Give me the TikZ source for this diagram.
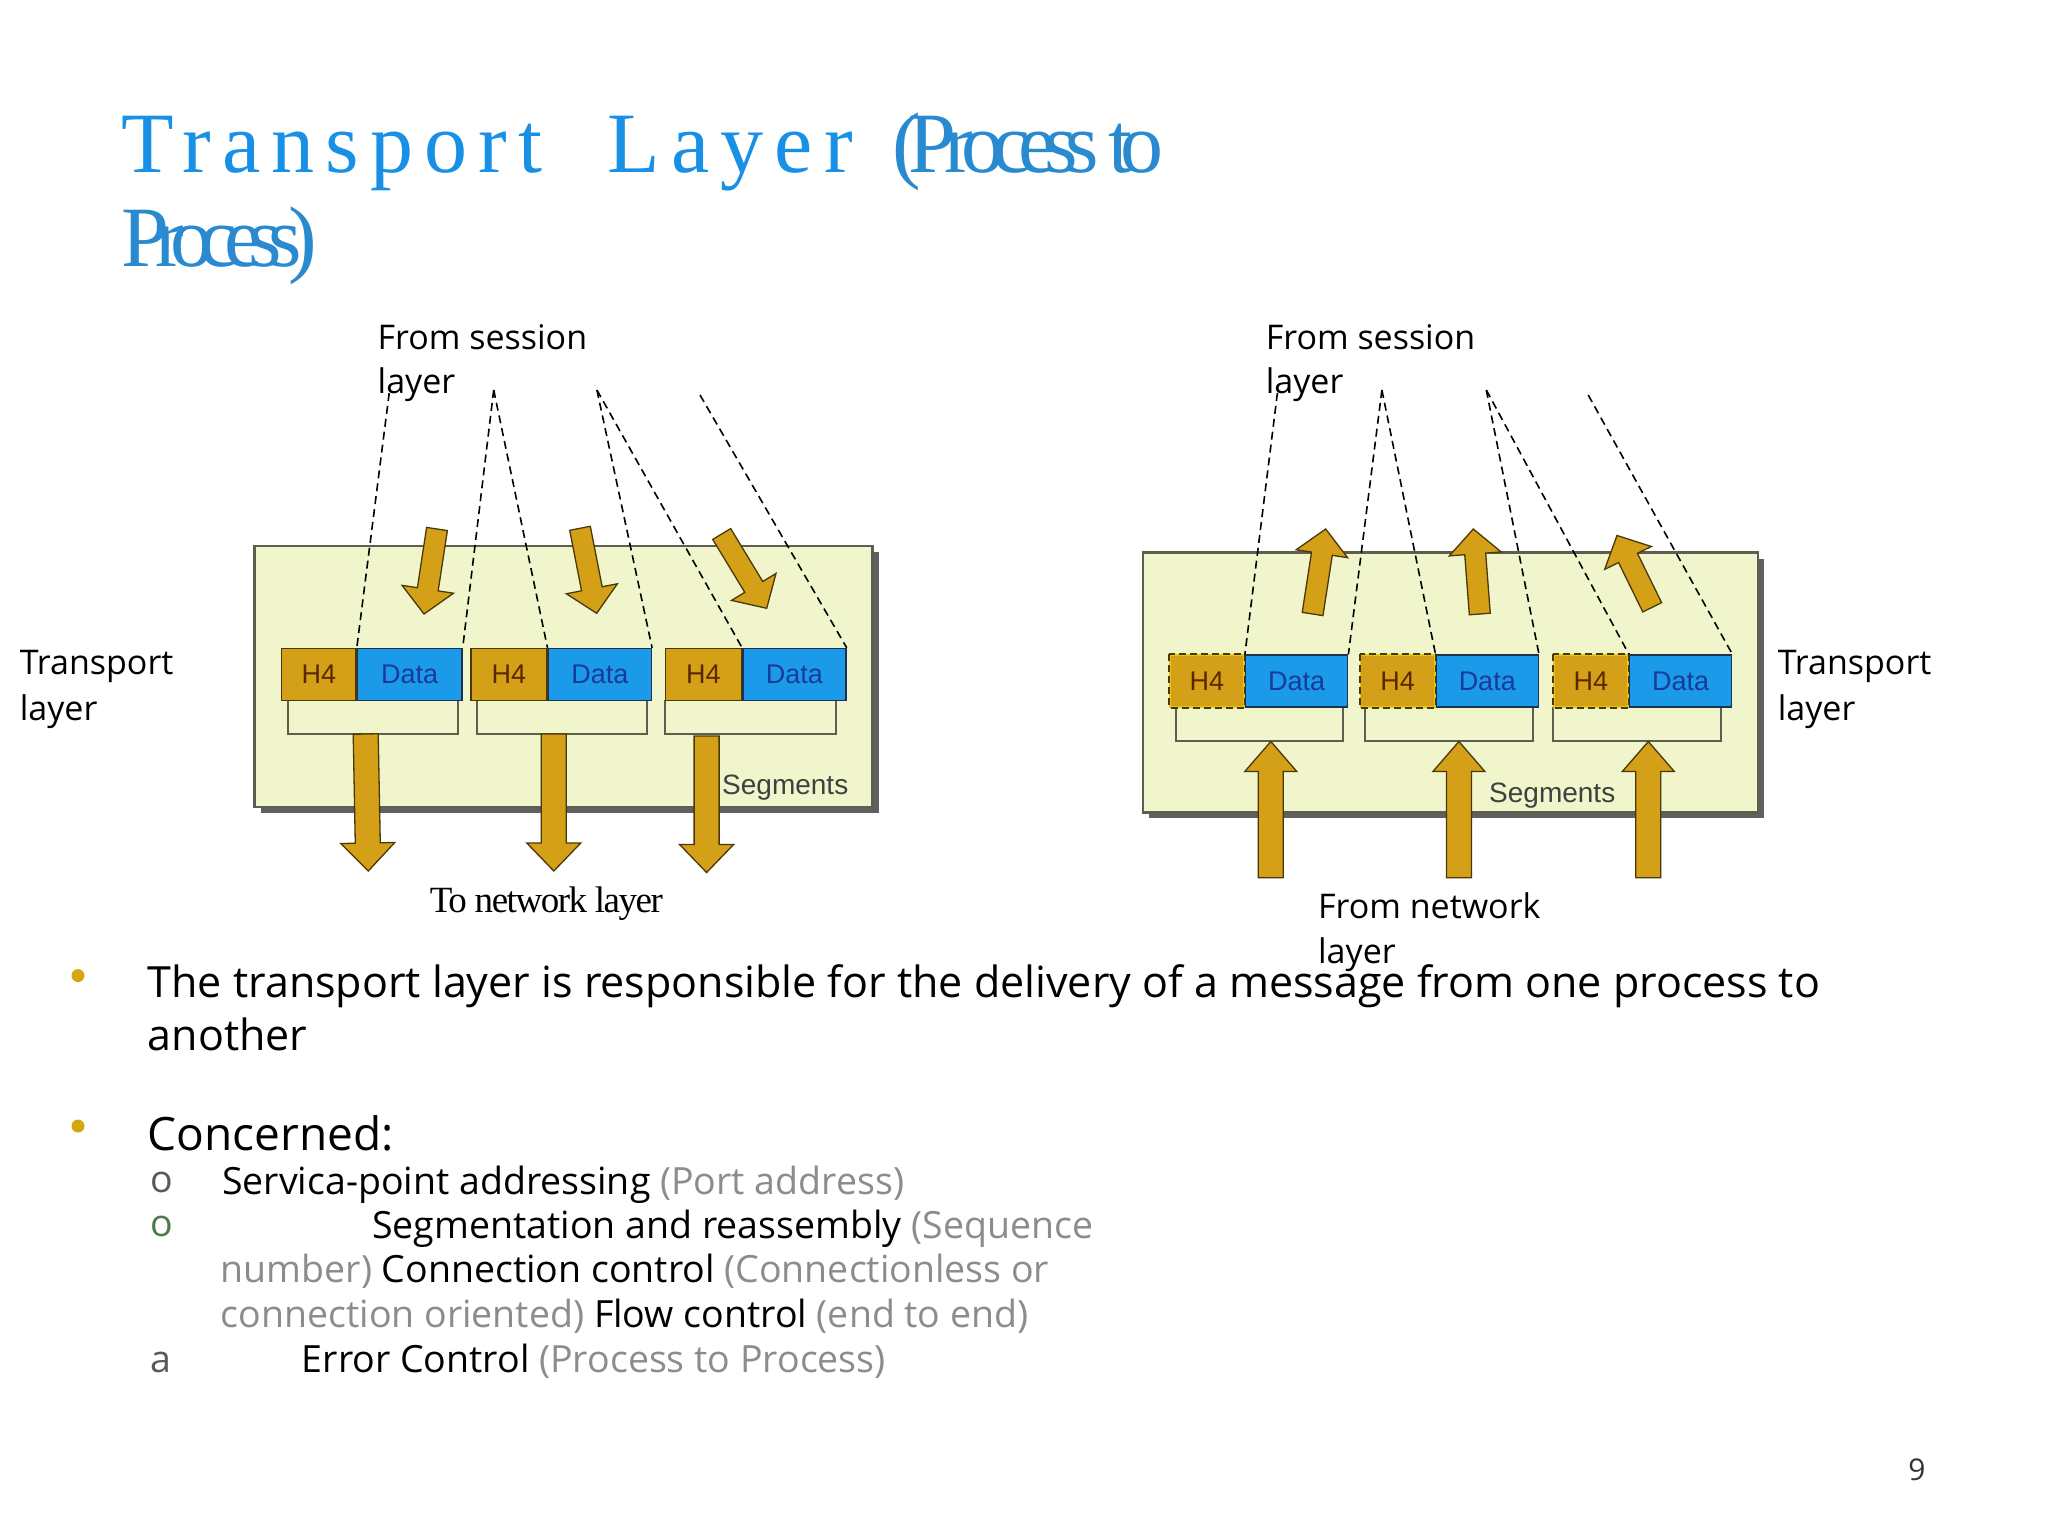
\documentclass[tikz,border=0pt]{standalone}
\usepackage{fontspec}
\setmainfont{Open Sans}
\newfontfamily\arialf{Liberation Sans}
\newfontfamily\serifwide[LetterSpace=13]{Liberation Serif}
\newfontfamily\seriftight[LetterSpace=-14]{Liberation Serif}
\newfontfamily\seriftighter[LetterSpace=-16]{Liberation Serif}
\newfontfamily\serifnet[LetterSpace=-4]{Liberation Serif}
\usetikzlibrary{calc}
\definecolor{gold}{HTML}{D4A017}
\definecolor{goldline}{HTML}{4A3808}
\definecolor{boxfill}{HTML}{F1F5CB}
\definecolor{boxline}{HTML}{5E5E4E}
\definecolor{shadowc}{HTML}{606060}
\definecolor{datafill}{HTML}{1B9AEA}
\definecolor{dataline}{HTML}{203050}
\definecolor{h4text}{HTML}{5A2800}
\definecolor{datatext}{HTML}{1A3A9A}
\definecolor{titleblue}{HTML}{1890E6}
\definecolor{titleblue2}{HTML}{2A8AD0}
\definecolor{graytext}{HTML}{8C8C8C}
\definecolor{bulletc}{HTML}{D4A80C}
\definecolor{segtext}{HTML}{404040}
\newcommand\barrow[5]{%
  \coordinate (hb) at ($(#2)!#5!(#1)$);
  \draw[arrowsty] ($(#1)!#3!90:(#2)$) -- ($(hb)!#3!90:(#2)$) -- ($(hb)!#4!90:(#2)$) -- (#2)
    -- ($(hb)!#4!-90:(#2)$) -- ($(hb)!#3!-90:(#2)$) -- ($(#1)!#3!-90:(#2)$) -- cycle;
}
\begin{document}
\begin{tikzpicture}[x=1pt,y=-1pt,
  arrowsty/.style={fill=gold,draw=goldline,line width=1.3pt,line join=miter},
  lbl/.style={inner sep=0,anchor=base west,font=\fontsize{34}{40}\selectfont},
  body/.style={inner sep=0,anchor=base west,font=\fontsize{43}{50}\selectfont},
  sub/.style={inner sep=0,anchor=base west,font=\fontsize{37.5}{44}\selectfont},
  h4box/.style={draw=goldline,fill=gold,line width=1.5pt,inner sep=0,minimum height=52pt,
     text=h4text,font=\arialf\fontsize{27}{30}\selectfont},
  databox/.style={draw=dataline,fill=datafill,line width=1.5pt,inner sep=0,minimum height=52pt,
     text=datatext,font=\arialf\fontsize{27}{30}\selectfont},
  bracket/.style={draw=boxline,line width=2pt},
  dsh/.style={draw=black,line width=1.6pt,dash pattern=on 8pt off 5pt},
  segl/.style={inner sep=0,anchor=base west,text=segtext,font=\arialf\fontsize{28}{30}\selectfont},
]
\useasboundingbox[fill=white] (0,0) rectangle (2048,1536);

% ---------- title ----------
\node[inner sep=0,anchor=base west,text=titleblue,font=\serifwide\fontsize{86}{90}\selectfont] (t1) at (121.5,172) {Transport};
\node[inner sep=0,anchor=base west,text=titleblue,font=\serifwide\fontsize{86}{90}\selectfont] (t2) at (607.3,172) {Layer};
\node[inner sep=0,anchor=base west,text=titleblue2,font=\seriftight\fontsize{86}{90}\selectfont] (t3) at (892,172) {(Process to};
\node[inner sep=0,anchor=base west,text=titleblue2,font=\seriftighter\fontsize{86}{90}\selectfont] (t4) at (121.5,266) {Process)};

% ---------- left diagram ----------
\fill[shadowc] (261,552) rectangle (878.5,813);
\draw[boxline,fill=boxfill,line width=2.5pt] (254.7,546) rectangle (872.5,807);

% brackets
\draw[bracket] (287.9,700) -- (287.9,734) -- (457.7,734) -- (457.7,700);
\draw[bracket] (476.6,700) -- (476.6,734) -- (647,734) -- (647,700);
\draw[bracket] (664.8,700) -- (664.8,734) -- (835.5,734) -- (835.5,700);

% segments
\node[h4box,minimum width=74.5pt,anchor=north west] (lh1) at (280.8,647.8) {H4};
\node[databox,minimum width=104.4pt,anchor=north west] (ld1) at (lh1.north east) {Data};
\node[h4box,minimum width=75.8pt,anchor=north west] (lh2) at (470.2,647.8) {H4};
\node[databox,minimum width=103.1pt,anchor=north west] (ld2) at (lh2.north east) {Data};
\node[h4box,minimum width=75.8pt,anchor=north west] (lh3) at (664.8,647.8) {H4};
\node[databox,minimum width=103.1pt,anchor=north west] (ld3) at (lh3.north east) {Data};

% dashed lines
\coordinate (lp1) at (389.2,393);
\coordinate (lp2) at (493.7,390);
\coordinate (lp3) at (596.9,390);
\coordinate (lp4) at (700,395);
\draw[dsh] (lp1) -- (ld1.north west);
\draw[dsh] (lp2) -- (ld1.north east);
\draw[dsh] (lp2) -- (ld2.north west);
\draw[dsh] (lp3) -- (ld2.north east);
\draw[dsh] (lp3) -- (ld3.north west);
\draw[dsh] (lp4) -- (ld3.north east);

% inner arrows
\coordinate (la1s) at (437,529);   \coordinate (la1e) at (424,614);
\coordinate (la2s) at (580,528.3); \coordinate (la2e) at (596.7,613.3);
\coordinate (la3s) at (721.7,534); \coordinate (la3e) at (766.7,608.3);
\barrow{la1s}{la1e}{10.5pt}{26pt}{25pt}
\barrow{la2s}{la2e}{10.5pt}{26pt}{25pt}
\barrow{la3s}{la3e}{10.5pt}{26pt}{25pt}

% outgoing arrows
\coordinate (lb1s) at (365.7,734); \coordinate (lb1e) at (368.3,871);
\coordinate (lb2s) at (553.8,734); \coordinate (lb2e) at (553.8,871);
\coordinate (lb3s) at (706.6,736); \coordinate (lb3e) at (706.6,872.5);
\barrow{lb1s}{lb1e}{12.5pt}{27pt}{28pt}
\barrow{lb2s}{lb2e}{12.5pt}{27pt}{28pt}
\barrow{lb3s}{lb3e}{12.5pt}{27pt}{28pt}

\node[segl] (lseg) at (722,794) {Segments};

\node[lbl] (lfs1) at (377.5,349) {From session};
\node[lbl] (lfs2) at (377.5,393.5) {layer};
\node[lbl] (ltl1) at (19.6,674) {Transport};
\node[lbl] (ltl2) at (19.6,720) {layer};
\node[inner sep=0,anchor=base west,font=\serifnet\fontsize{37}{40}\selectfont] (lnet) at (429.7,912) {To network layer};

% ---------- right diagram ----------
\fill[shadowc] (1149,558.5) rectangle (1764,818.4);
\draw[boxline,fill=boxfill,line width=2.5pt] (1142.8,552.5) rectangle (1758,812.4);

\draw[bracket] (1175.5,706.6) -- (1175.5,740.6) -- (1342.7,740.6) -- (1342.7,706.6);
\draw[bracket] (1364.9,706.6) -- (1364.9,740.6) -- (1533.4,740.6) -- (1533.4,706.6);
\draw[bracket] (1553,706.6) -- (1553,740.6) -- (1721.4,740.6) -- (1721.4,706.6);

\node[h4box,draw=gold!60!yellow,minimum width=74.4pt,anchor=north west] (rh1) at (1169,654.3) {H4};
\node[h4box,draw=gold!60!yellow,minimum width=74.4pt,anchor=north west] (rh2) at (1359.6,654.3) {H4};
\node[h4box,draw=gold!60!yellow,minimum width=74.4pt,anchor=north west] (rh3) at (1553,654.3) {H4};
\draw[goldline,line width=1.8pt,dash pattern=on 7pt off 4pt] (rh1.north west) rectangle (rh1.south east);
\draw[goldline,line width=1.8pt,dash pattern=on 7pt off 4pt] (rh2.north west) rectangle (rh2.south east);
\draw[goldline,line width=1.8pt,dash pattern=on 7pt off 4pt] (rh3.north west) rectangle (rh3.south east);
\node[databox,minimum width=102pt,anchor=north west] (rd1) at (rh1.north east) {Data};
\node[databox,minimum width=102pt,anchor=north west] (rd2) at (rh2.north east) {Data};
\node[databox,minimum width=102pt,anchor=north west] (rd3) at (rh3.north east) {Data};

\coordinate (rp1) at (1277.4,393);
\coordinate (rp2) at (1381.9,390);
\coordinate (rp3) at (1486.3,390);
\coordinate (rp4) at (1588.2,395);
\draw[dsh] (rp1) -- (rd1.north west);
\draw[dsh] (rp2) -- (rd1.north east);
\draw[dsh] (rp2) -- (rd2.north west);
\draw[dsh] (rp3) -- (rd2.north east);
\draw[dsh] (rp3) -- (rd3.north west);
\draw[dsh] (rp4) -- (rd3.north east);

\coordinate (ra1s) at (1312.6,614); \coordinate (ra1e) at (1325.7,529);
\coordinate (ra2s) at (1479.8,614); \coordinate (ra2e) at (1473.3,529);
\coordinate (ra3s) at (1652.2,607.3); \coordinate (ra3e) at (1617,535.5);
\barrow{ra1s}{ra1e}{10.5pt}{26pt}{25pt}
\barrow{ra2s}{ra2e}{10.5pt}{26pt}{25pt}
\barrow{ra3s}{ra3e}{10.5pt}{26pt}{25pt}

\coordinate (rb1s) at (1270.8,877.7); \coordinate (rb1e) at (1270.8,741.5);
\coordinate (rb2s) at (1458.9,877.7); \coordinate (rb2e) at (1458.9,741.5);
\coordinate (rb3s) at (1648.3,877.7); \coordinate (rb3e) at (1648.3,741.5);
\barrow{rb1s}{rb1e}{12.5pt}{26pt}{30pt}
\barrow{rb2s}{rb2e}{12.5pt}{26pt}{30pt}
\barrow{rb3s}{rb3e}{12.5pt}{26pt}{30pt}

\node[segl] (rseg) at (1489,802) {Segments};

\node[lbl] (rfs1) at (1265.6,349) {From session};
\node[lbl] (rfs2) at (1265.6,393.5) {layer};
\node[lbl] (rtl1) at (1777.6,674) {Transport};
\node[lbl] (rtl2) at (1777.6,720) {layer};
\node[lbl] (rfn1) at (1317.9,918) {From network};
\node[lbl] (rfn2) at (1317.9,963) {layer};

% ---------- body text ----------
\fill[bulletc] (78,975.6) circle (6.5pt);
\node[body] (b1a) at (147.6,997) {The transport layer is responsible for the delivery of a message from one process to};
\node[body] (b1b) at (147.6,1050) {another};
\fill[bulletc] (78,1126) circle (6.5pt);
\node[body,font=\fontsize{46}{52}\selectfont] (b2) at (147.6,1150) {Concerned:};

\node[sub,text=black!65] (m1) at (150,1192) {o};
\node[sub,text=black!55!green!40!gray] (m2) at (150,1236) {o};
\node[sub,text=black!65] (m3) at (150,1372.6) {a};
\node[sub] (s1) at (222,1194) {Servica-point addressing \textcolor{graytext}{(Port address)}};
\node[sub] (s2) at (372,1238) {Segmentation and reassembly \textcolor{graytext}{(Sequence}};
\node[sub] (s3) at (220.7,1282.5) {\textcolor{graytext}{number)} Connection control \textcolor{graytext}{(Connectionless or}};
\node[sub] (s4) at (220.7,1327) {\textcolor{graytext}{connection oriented)} Flow control \textcolor{graytext}{(end to end)}};
\node[sub] (s5) at (301.7,1372.6) {Error Control \textcolor{graytext}{(Process to Process)}};

\node[inner sep=0,text=black!80,font=\fontsize{30}{34}\selectfont] (pg) at (1917,1469.5) {9};
\end{tikzpicture}
\end{document}
